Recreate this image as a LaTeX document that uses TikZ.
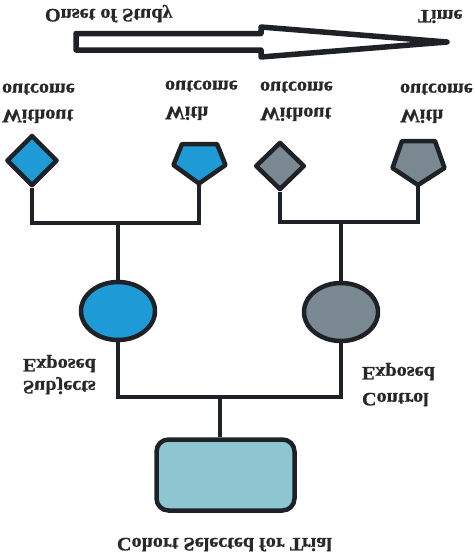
\documentclass[tikz,border=0pt]{standalone}
\usepackage{fontspec}
\setmainfont{Liberation Serif}[BoldFeatures={FakeBold=0.8}]
\usetikzlibrary{shapes.geometric}
\definecolor{cblue}{RGB}{30,154,214}
\definecolor{cgray}{RGB}{122,136,145}
\definecolor{cbox}{RGB}{141,197,208}
\definecolor{cline}{RGB}{30,34,38}
\definecolor{ctext}{RGB}{40,40,40}
\newcommand{\fliptext}[2][25]{\scalebox{1.06}[-1]{\fontsize{19}{#1}\selectfont\bfseries\begin{tabular}{@{}l@{}}#2\end{tabular}}}
\begin{document}
\begin{tikzpicture}[x=1pt,y=-1pt,
  lbl/.style={inner sep=0pt,outer sep=0pt,text=ctext,anchor=north west},
  conn/.style={draw=cline,line width=4.5pt},
  shp/.style={draw=cline,line width=4.5pt,line join=round},
  dia/.style={shp,shape=diamond,inner sep=0pt},
  ell/.style={shp,shape=ellipse,minimum width=74pt,minimum height=58pt,inner sep=0pt},
  cohortbox/.style={shp,rectangle,rounded corners=12pt,fill=cbox,minimum width=138pt,minimum height=71pt}]
\useasboundingbox[fill=white] (0,0) rectangle (474,557);

% time arrow
\draw[draw=cline,line width=5.5pt,line join=round,fill=white]
  (76,33.5) -- (261,33.5) -- (261,27) -- (447,42) -- (261,57) -- (261,50) -- (76,50) -- cycle;
\node[lbl] (onset) at (45,1.5) {\fliptext{Onset of Study}};
\node[lbl] (time) at (418,2.5) {\fliptext{Time}};

% outcome labels
\node[lbl] (lwo1) at (2,76) {\fliptext[26]{Without\\outcome}};
\node[lbl] (lw1) at (165,73) {\fliptext[26]{With\\outcome}};
\node[lbl] (lwo2) at (260,74) {\fliptext[26]{Without\\outcome}};
\node[lbl] (lw2) at (400,76) {\fliptext[26]{With\\outcome}};

% outcome shapes
\node[dia,fill=cblue,minimum width=51pt,minimum height=51pt] (d1) at (32,160.5) {};
\node[dia,fill=cgray,minimum width=49.5pt,minimum height=48pt] (d2) at (280,166) {};
\draw[shp,fill=cblue] (182,144) -- (217,144) -- (225.5,165) -- (199,183.5) -- (173.5,165) -- cycle;
\coordinate (p1) at (199,183.5);
\draw[shp,fill=cgray] (402,141) -- (435,141) -- (444.5,168) -- (418,185) -- (392.5,168) -- cycle;
\coordinate (p2) at (418,185);

% exposure groups
\node[ell,fill=cblue] (e1) at (118,311) {};
\node[ell,fill=cgray] (e2) at (341,312) {};
\node[lbl] (lexp1) at (23,352.4) {\fliptext[22]{Subjects\\Exposed}};
\node[lbl] (lexp2) at (362,359.2) {\fliptext[26]{Control\\Exposed}};

% cohort
\node[cohortbox] (cohort) at (225.5,475) {};
\node[lbl] (lcohort) at (117,530.5) {\fliptext{Cohort Selected for Trial}};

% connectors
\coordinate (b1) at (118,223);
\coordinate (b2) at (341,222);
\coordinate (b3) at (220,397);
\draw[conn] (d1.south) |- (b1) -| (p1);
\draw[conn] (b1) -- (e1.north);
\draw[conn] (d2.south) |- (b2) -| (p2);
\draw[conn] (b2) -- (e2.north);
\draw[conn] (e1.south) |- (b3) -| (e2.south);
\draw[conn] (b3) -- (b3 |- cohort.north);
\end{tikzpicture}
\end{document}
